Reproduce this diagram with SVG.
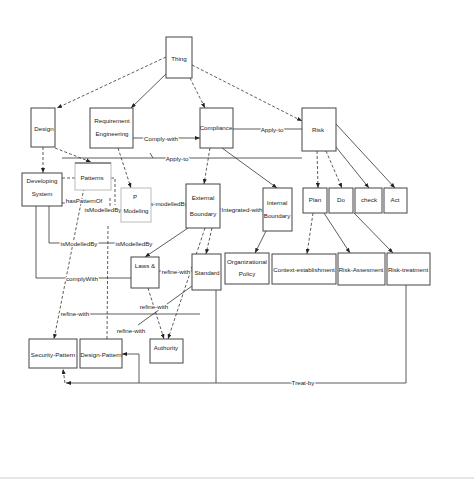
<svg xmlns="http://www.w3.org/2000/svg" width="474" height="484" viewBox="0 0 474 484">
<style>
text{font-family:"Liberation Sans",Arial,sans-serif;font-size:6.2px;fill:#222;text-anchor:middle;dominant-baseline:central}
.box{fill:#fff;stroke:#444;stroke-width:1}
.faint{fill:#fff;stroke:#bbb;stroke-width:1}
.c{fill:none;stroke:#333;stroke-width:0.8}
.d{fill:none;stroke:#333;stroke-width:0.8;stroke-dasharray:3,2}
.lbl{paint-order:stroke;stroke:#fff;stroke-width:2.5px;stroke-linejoin:round}
</style>
<defs>
<marker id="ah" markerUnits="userSpaceOnUse" markerWidth="5" markerHeight="4" refX="5" refY="2" orient="auto">
<path d="M0,0 L5,2 L0,4 z" fill="#222"/>
</marker>
</defs>
<rect width="474" height="484" fill="#fff"/>
<line x1="0" y1="478" x2="474" y2="478" stroke="#ccc" stroke-width="1"/>

<g id="connectors">
<path class="d" d="M166,57 L57,108" marker-end="url(#ah)"/>
<path class="c" d="M167,73 L131,108" marker-end="url(#ah)"/>
<path class="d" d="M190,78 L205,108" marker-end="url(#ah)"/>
<path class="d" d="M192,65 L302,121" marker-end="url(#ah)"/>
<path class="c" d="M133,138 L200,138" marker-end="url(#ah)"/>
<path class="c" d="M233,129 L302,129"/>
<path class="c" d="M302,158 L62,158"/>
<path class="c" d="M150,153 L153,158"/>
<path class="d" d="M43,147 L43,173" marker-end="url(#ah)"/>
<path class="d" d="M55,148 L91,162" marker-end="url(#ah)"/>
<path class="d" d="M62,178 L75,178"/>
<path class="d" d="M111,178 L115,178 L115,205"/>
<path class="d" d="M110,198 L110,211"/>
<path class="d" d="M108,226 L107,339" stroke-dasharray="6,2,1,2"/>
<path class="d" d="M84,188 L54,339" marker-end="url(#ah)"/>
<path class="d" d="M62,203 L68,203"/>
<path class="d" d="M118,148 L131,188" marker-end="url(#ah)"/>
<path class="c" d="M151,203 L186,203"/>
<path class="d" d="M210,148 L204,184" marker-end="url(#ah)"/>
<path class="c" d="M222,148 L277,188" marker-end="url(#ah)"/>
<path class="c" d="M220,209 L263,209"/>
<path class="c" d="M266,231 L255,253" marker-end="url(#ah)"/>
<path class="d" d="M317,151 L318,188" marker-end="url(#ah)"/>
<path class="d" d="M326,151 L342,188" marker-end="url(#ah)"/>
<path class="c" d="M336,147 L369,188" marker-end="url(#ah)"/>
<path class="c" d="M336,124 L395,188" marker-end="url(#ah)"/>
<path class="d" d="M313,213 L307,254" marker-end="url(#ah)"/>
<path class="c" d="M324,213 L350,253" marker-end="url(#ah)"/>
<path class="c" d="M354,213 L393,253" marker-end="url(#ah)"/>
<path class="c" d="M49,206 L49,243 L152,243"/>
<path class="c" d="M36,206 L36,278 L131,278"/>
<path class="c" d="M188,228 L145,257" marker-end="url(#ah)"/>
<path class="d" d="M212,228 L206,254" marker-end="url(#ah)"/>
<path class="d" d="M205,228 L168,339" marker-end="url(#ah)"/>
<path class="d" d="M148,288 L164,339" marker-end="url(#ah)"/>
<path class="c" d="M159,271 L192,271"/>
<path class="c" d="M192,286 L138,325"/>
<path class="c" d="M200,314 L86,314"/>
<path class="c" d="M406,285 L406,383 L66,383" marker-end="url(#ah)"/>
<path class="d" d="M65,383 L63,369" marker-end="url(#ah)"/>
<path class="c" d="M216,290 L216,383"/>
<path class="c" d="M139,383 L139,354 L122,354" marker-end="url(#ah)"/>

<text class="lbl" x="161" y="138">Comply-with</text>
<text class="lbl" x="272" y="129">Apply-to</text>
<text class="lbl" x="177" y="158">Apply-to</text>
<text class="lbl" x="84" y="200">hasPatternOf</text>
<text class="lbl" x="103" y="209">isModelledBy</text>
<text class="lbl" x="169" y="203">s-modelledBy</text>
<text class="lbl" x="242" y="209">Integrated-with</text>
<text class="lbl" x="79" y="243">isModelledBy</text>
<text class="lbl" x="134" y="243">isModelledBy</text>
<text class="lbl" x="82" y="278">complyWith</text>
<text class="lbl" x="176" y="271">refine-with</text>
<text class="lbl" x="154" y="306">refine-with</text>
<text class="lbl" x="75" y="313">refine-with</text>
<text class="lbl" x="131" y="330">refine-with</text>
<text class="lbl" x="303" y="382">Treat-by</text>
</g>

<g id="thing"><rect class="box" x="166" y="37" width="26" height="41"/><text x="179" y="58">Thing</text></g>
<g id="design"><rect class="box" x="31" y="108" width="24" height="39"/><text x="44" y="128">Design</text></g>
<g id="requirement-engineering"><rect class="box" x="90" y="108" width="43" height="40"/><text x="112" y="120">Requirement</text><text x="112" y="133">Engineering</text></g>
<g id="compliance"><rect class="box" x="200" y="108" width="33" height="40"/><text x="216" y="127">Compliance</text></g>
<g id="risk"><rect class="box" x="302" y="108" width="34" height="43"/><text x="318" y="129">Risk</text></g>
<g id="developing-system"><rect class="box" x="22" y="173" width="40" height="33"/><text x="42" y="180">Developing</text><text x="42" y="193">System</text></g>
<g id="patterns"><rect class="faint" x="75" y="163" width="36" height="27"/><line x1="75" y1="163" x2="111" y2="163" stroke="#444"/><text x="92" y="177">Patterns</text></g>
<g id="ip-modeling"><rect class="faint" x="121" y="188" width="30" height="34"/><text x="135" y="196">P</text><text x="136" y="210">Modeling</text></g>
<g id="external-boundary"><rect class="box" x="186" y="184" width="34" height="44"/><text x="203" y="197">External</text><text x="203" y="213">Boundary</text></g>
<g id="internal-boundary"><rect class="box" x="263" y="188" width="29" height="43"/><text x="277" y="202">Internal</text><text x="277" y="215">Boundary</text></g>
<g id="plan"><rect class="box" x="303" y="188" width="24" height="25"/><text x="315" y="199">Plan</text></g>
<g id="do"><rect class="box" x="329" y="188" width="24" height="25"/><text x="341" y="199">Do</text></g>
<g id="check"><rect class="box" x="355" y="188" width="27" height="25"/><text x="369" y="199">check</text></g>
<g id="act"><rect class="box" x="384" y="188" width="23" height="25"/><text x="395" y="199">Act</text></g>
<g id="laws"><rect class="box" x="131" y="257" width="28" height="31"/><text x="145" y="265">Laws &amp;</text></g>
<g id="standard"><rect class="box" x="192" y="254" width="29" height="36"/><text x="207" y="272">Standard</text></g>
<g id="organizational-policy"><rect class="box" x="225" y="253" width="44" height="31"/><text x="247" y="261">Organizational</text><text x="247" y="273">Policy</text></g>
<g id="context-establishment"><rect class="box" x="272" y="254" width="64" height="30"/><text x="304" y="269">Context-establishment</text></g>
<g id="risk-assesment"><rect class="box" x="338" y="253" width="47" height="32"/><text x="361" y="269">Risk-Assesment</text></g>
<g id="risk-treatment"><rect class="box" x="387" y="253" width="43" height="32"/><text x="408" y="269">Risk-treatment</text></g>
<g id="security-pattern"><rect class="box" x="29" y="339" width="48" height="29"/><text x="53" y="354">Security-Pattern</text></g>
<g id="design-pattern"><rect class="box" x="80" y="339" width="42" height="29"/><text x="101" y="354">Design-Pattern</text></g>
<g id="authority"><rect class="box" x="150" y="339" width="33" height="24"/><text x="166" y="347">Authority</text></g>
</svg>
